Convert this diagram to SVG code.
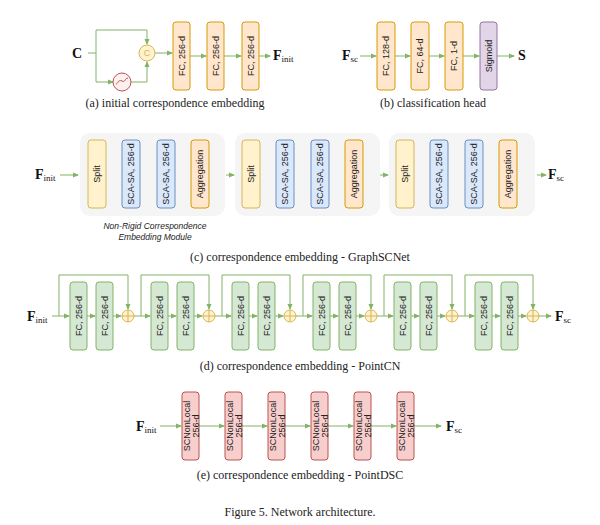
<svg xmlns="http://www.w3.org/2000/svg" width="600" height="525" viewBox="0 0 600 525">
<style>
.o{fill:#ffe6cc;stroke:#d79b00}.g{fill:#d5e8d4;stroke:#82b366}.bl{fill:#dae8fc;stroke:#6c8ebf}.p{fill:#e1d5e7;stroke:#9673a6}.r{fill:#f8cecc;stroke:#b85450}.sp{fill:#fff2cc;stroke:#d6b656}
.t{font-family:"Liberation Sans",Arial,sans-serif;font-size:9px;fill:#222;text-anchor:middle;dominant-baseline:central}
.t2{font-family:"Liberation Sans",Arial,sans-serif;font-size:8.5px;fill:#222;text-anchor:middle}
.cap{font-family:"Liberation Serif",serif;font-size:12px;fill:#222;text-anchor:middle}
.m{font-family:"Liberation Serif",serif;font-size:14px;font-weight:bold;fill:#111}
.sub{font-size:9px;font-weight:normal}
.c{fill:none;stroke:#82b366;stroke-width:1;marker-end:url(#ag)}
.cb{fill:none;stroke:#6c8ebf;stroke-width:1;marker-end:url(#ab)}
.ln{fill:none;stroke:#82b366;stroke-width:1}
.y{fill:#fff2cc;stroke:#d6b656}
</style>
<defs>
<marker id="ag" markerWidth="6" markerHeight="6" refX="5" refY="3" orient="auto" markerUnits="userSpaceOnUse"><path d="M0,0.5L6,3L0,5.5z" fill="#82b366"/></marker>
<marker id="ab" markerWidth="6" markerHeight="6" refX="5" refY="3" orient="auto" markerUnits="userSpaceOnUse"><path d="M0,0.5L6,3L0,5.5z" fill="#6c8ebf"/></marker>
</defs>
<g id="connectors">
<path class="ln" d="M88,53H96V30H147"/><path class="c" d="M147,30V44"/>
<path class="c" d="M96,53V82H113"/><path class="ln" d="M131,82H147"/><path class="c" d="M147,82V62"/>
<path class="c" d="M155,53H172"/><path class="c" d="M190,56H206"/><path class="c" d="M224,56H241"/><path class="c" d="M259,56H270"/>
<path class="c" d="M360,56H376"/><path class="c" d="M395,56H410"/><path class="c" d="M429,56H444"/><path class="c" d="M463,56H479"/><path class="c" d="M497,56H514"/>
<path class="c" d="M60,175H78"/><path class="c" d="M226,175H234"/><path class="c" d="M380,175H388"/><path class="c" d="M537,175H546"/>
<path class="cb" d="M106,175H121"/><path class="cb" d="M140,175H156"/><path class="cb" d="M175,175H190"/>
<path class="cb" d="M260,175H275"/><path class="cb" d="M294,175H310"/><path class="cb" d="M329,175H344"/>
<path class="cb" d="M414,175H429"/><path class="cb" d="M448,175H464"/><path class="cb" d="M483,175H498"/>
<path class="c" d="M52,316H69"/>
<path class="c" d="M87,316H95"/><path class="c" d="M113,316H121"/><path class="ln" d="M59,316V275H128"/><path class="c" d="M128,275V309"/>
<path class="c" d="M134,316H150"/><path class="c" d="M168,316H176"/><path class="c" d="M194,316H202"/><path class="ln" d="M141,316V275H209"/><path class="c" d="M209,275V309"/>
<path class="c" d="M215,316H231"/><path class="c" d="M249,316H257"/><path class="c" d="M275,316H283"/><path class="ln" d="M222,316V275H290"/><path class="c" d="M290,275V309"/>
<path class="c" d="M296,316H312"/><path class="c" d="M330,316H338"/><path class="c" d="M356,316H364"/><path class="ln" d="M303,316V275H371"/><path class="c" d="M371,275V309"/>
<path class="c" d="M377,316H393"/><path class="c" d="M411,316H419"/><path class="c" d="M437,316H445"/><path class="ln" d="M384,316V275H452"/><path class="c" d="M452,275V309"/>
<path class="c" d="M458,316H474"/><path class="c" d="M492,316H500"/><path class="c" d="M518,316H526"/><path class="ln" d="M465,316V275H533"/><path class="c" d="M533,275V309"/>
<path class="c" d="M539,316H551"/>
<path class="c" d="M160,426H181"/><path class="c" d="M199,426H224"/><path class="c" d="M242,426H267"/><path class="c" d="M285,426H310"/><path class="c" d="M328,426H353"/><path class="c" d="M371,426H396"/><path class="c" d="M414,426H441"/>
</g>
<g id="a">
<text class="m" x="72" y="58">C</text>
<g id="concat"><circle class="y" cx="147" cy="53" r="8"/><text class="t" x="147" y="53" style="fill:#d6b656">C</text></g>
<g id="sine"><circle cx="122" cy="82" r="9" fill="#fdf0f0" stroke="#b85450"/><path d="M116,84c2,0 2,-5 6,-3c3,2 3,-3 6,-3" fill="none" stroke="#b85450"/></g>
<g id="a1"><rect class="o" x="173" y="22" width="17" height="68" rx="3"/><text class="t" transform="translate(182,56) rotate(-90)">FC, 256-d</text></g>
<g id="a2"><rect class="o" x="207" y="22" width="17" height="68" rx="3"/><text class="t" transform="translate(216,56) rotate(-90)">FC, 256-d</text></g>
<g id="a3"><rect class="o" x="242" y="22" width="17" height="68" rx="3"/><text class="t" transform="translate(251,56) rotate(-90)">FC, 256-d</text></g>
<text class="m" x="273" y="60">F<tspan class="sub" dy="2">init</tspan></text>
<text class="cap" x="175" y="107">(a) initial correspondence embedding</text>
</g>
<g id="b">
<text class="m" x="342" y="60">F<tspan class="sub" dy="2">sc</tspan></text>
<g id="b1"><rect class="o" x="377" y="22" width="18" height="68" rx="3"/><text class="t" transform="translate(386,56) rotate(-90)">FC, 128-d</text></g>
<g id="b2"><rect class="o" x="411" y="22" width="18" height="68" rx="3"/><text class="t" transform="translate(420,56) rotate(-90)">FC, 64-d</text></g>
<g id="b3"><rect class="o" x="445" y="22" width="18" height="68" rx="3"/><text class="t" transform="translate(454,56) rotate(-90)">FC, 1-d</text></g>
<g id="b4"><rect class="p" x="480" y="22" width="17" height="68" rx="3"/><text class="t" transform="translate(488.5,56) rotate(-90)">Sigmoid</text></g>
<text class="m" x="518" y="60">S</text>
<text class="cap" x="433" y="107">(b) classification head</text>
</g>
<g id="c">
<text class="m" x="35" y="179">F<tspan class="sub" dy="2">init</tspan></text>
<rect x="80" y="133" width="145" height="83" rx="10" fill="#f5f5f5"/>
<rect x="235" y="133" width="145" height="83" rx="10" fill="#f5f5f5"/>
<rect x="389" y="133" width="146" height="83" rx="10" fill="#f5f5f5"/>
<g id="c1"><rect class="sp" x="88" y="140" width="18" height="68" rx="3"/><text class="t" transform="translate(97,174) rotate(-90)">Split</text></g>
<g id="c2"><rect class="bl" x="122" y="140" width="18" height="68" rx="3"/><text class="t" transform="translate(131,174) rotate(-90)">SCA-SA, 256-d</text></g>
<g id="c3"><rect class="bl" x="157" y="140" width="18" height="68" rx="3"/><text class="t" transform="translate(166,174) rotate(-90)">SCA-SA, 256-d</text></g>
<g id="c4"><rect class="o" x="191" y="140" width="18" height="68" rx="3"/><text class="t" transform="translate(200,174) rotate(-90)">Aggregation</text></g>
<g id="c5"><rect class="sp" x="242" y="140" width="18" height="68" rx="3"/><text class="t" transform="translate(251,174) rotate(-90)">Split</text></g>
<g id="c6"><rect class="bl" x="276" y="140" width="18" height="68" rx="3"/><text class="t" transform="translate(285,174) rotate(-90)">SCA-SA, 256-d</text></g>
<g id="c7"><rect class="bl" x="311" y="140" width="18" height="68" rx="3"/><text class="t" transform="translate(320,174) rotate(-90)">SCA-SA, 256-d</text></g>
<g id="c8"><rect class="o" x="345" y="140" width="18" height="68" rx="3"/><text class="t" transform="translate(354,174) rotate(-90)">Aggregation</text></g>
<g id="c9"><rect class="sp" x="396" y="140" width="18" height="68" rx="3"/><text class="t" transform="translate(405,174) rotate(-90)">Split</text></g>
<g id="c10"><rect class="bl" x="430" y="140" width="18" height="68" rx="3"/><text class="t" transform="translate(439,174) rotate(-90)">SCA-SA, 256-d</text></g>
<g id="c11"><rect class="bl" x="465" y="140" width="18" height="68" rx="3"/><text class="t" transform="translate(474,174) rotate(-90)">SCA-SA, 256-d</text></g>
<g id="c12"><rect class="o" x="499" y="140" width="18" height="68" rx="3"/><text class="t" transform="translate(508,174) rotate(-90)">Aggregation</text></g>
<text class="m" x="548" y="179">F<tspan class="sub" dy="2">sc</tspan></text>
<text class="t2" x="155" y="229" style="font-style:italic">Non-Rigid Correspondence</text>
<text class="t2" x="155" y="240" style="font-style:italic">Embedding Module</text>
<text class="cap" x="300" y="261">(c) correspondence embedding - GraphSCNet</text>
</g>
<g id="d">
<text class="m" x="27" y="321">F<tspan class="sub" dy="2">init</tspan></text>
<g id="d1"><rect class="g" x="70" y="282" width="17" height="68" rx="3"/><text class="t" transform="translate(78.5,316) rotate(-90)">FC, 256-d</text></g>
<g id="d2"><rect class="g" x="96" y="282" width="17" height="68" rx="3"/><text class="t" transform="translate(104.5,316) rotate(-90)">FC, 256-d</text></g>
<g id="d3"><rect class="g" x="151" y="282" width="17" height="68" rx="3"/><text class="t" transform="translate(159.5,316) rotate(-90)">FC, 256-d</text></g>
<g id="d4"><rect class="g" x="177" y="282" width="17" height="68" rx="3"/><text class="t" transform="translate(185.5,316) rotate(-90)">FC, 256-d</text></g>
<g id="d5"><rect class="g" x="232" y="282" width="17" height="68" rx="3"/><text class="t" transform="translate(240.5,316) rotate(-90)">FC, 256-d</text></g>
<g id="d6"><rect class="g" x="258" y="282" width="17" height="68" rx="3"/><text class="t" transform="translate(266.5,316) rotate(-90)">FC, 256-d</text></g>
<g id="d7"><rect class="g" x="313" y="282" width="17" height="68" rx="3"/><text class="t" transform="translate(321.5,316) rotate(-90)">FC, 256-d</text></g>
<g id="d8"><rect class="g" x="339" y="282" width="17" height="68" rx="3"/><text class="t" transform="translate(347.5,316) rotate(-90)">FC, 256-d</text></g>
<g id="d9"><rect class="g" x="394" y="282" width="17" height="68" rx="3"/><text class="t" transform="translate(402.5,316) rotate(-90)">FC, 256-d</text></g>
<g id="d10"><rect class="g" x="420" y="282" width="17" height="68" rx="3"/><text class="t" transform="translate(428.5,316) rotate(-90)">FC, 256-d</text></g>
<g id="d11"><rect class="g" x="475" y="282" width="17" height="68" rx="3"/><text class="t" transform="translate(483.5,316) rotate(-90)">FC, 256-d</text></g>
<g id="d12"><rect class="g" x="501" y="282" width="17" height="68" rx="3"/><text class="t" transform="translate(509.5,316) rotate(-90)">FC, 256-d</text></g>
<g id="plus" stroke="#d6b656" fill="#fff2cc">
<circle cx="128" cy="316" r="6"/><path d="M122,316h12M128,310v12"/>
<circle cx="209" cy="316" r="6"/><path d="M203,316h12M209,310v12"/>
<circle cx="290" cy="316" r="6"/><path d="M284,316h12M290,310v12"/>
<circle cx="371" cy="316" r="6"/><path d="M365,316h12M371,310v12"/>
<circle cx="452" cy="316" r="6"/><path d="M446,316h12M452,310v12"/>
<circle cx="533" cy="316" r="6"/><path d="M527,316h12M533,310v12"/>
</g>
<text class="m" x="555" y="321">F<tspan class="sub" dy="2">sc</tspan></text>
<text class="cap" x="300" y="370">(d) correspondence embedding - PointCN</text>
</g>
<g id="e">
<text class="m" x="136" y="431">F<tspan class="sub" dy="2">init</tspan></text>
<g id="e1"><rect class="r" x="182" y="392" width="17" height="68" rx="3"/><text class="t" transform="translate(190.5,426) rotate(-90)"><tspan x="0" dy="-4">SCNonLocal</tspan><tspan x="0" dy="9">256-d</tspan></text></g>
<g id="e2"><rect class="r" x="225" y="392" width="17" height="68" rx="3"/><text class="t" transform="translate(233.5,426) rotate(-90)"><tspan x="0" dy="-4">SCNonLocal</tspan><tspan x="0" dy="9">256-d</tspan></text></g>
<g id="e3"><rect class="r" x="268" y="392" width="17" height="68" rx="3"/><text class="t" transform="translate(276.5,426) rotate(-90)"><tspan x="0" dy="-4">SCNonLocal</tspan><tspan x="0" dy="9">256-d</tspan></text></g>
<g id="e4"><rect class="r" x="311" y="392" width="17" height="68" rx="3"/><text class="t" transform="translate(319.5,426) rotate(-90)"><tspan x="0" dy="-4">SCNonLocal</tspan><tspan x="0" dy="9">256-d</tspan></text></g>
<g id="e5"><rect class="r" x="354" y="392" width="17" height="68" rx="3"/><text class="t" transform="translate(362.5,426) rotate(-90)"><tspan x="0" dy="-4">SCNonLocal</tspan><tspan x="0" dy="9">256-d</tspan></text></g>
<g id="e6"><rect class="r" x="397" y="392" width="17" height="68" rx="3"/><text class="t" transform="translate(405.5,426) rotate(-90)"><tspan x="0" dy="-4">SCNonLocal</tspan><tspan x="0" dy="9">256-d</tspan></text></g>
<text class="m" x="446" y="431">F<tspan class="sub" dy="2">sc</tspan></text>
<text class="cap" x="300" y="479">(e) correspondence embedding - PointDSC</text>
</g>
<text class="cap" x="300" y="516">Figure 5. Network architecture.</text>
</svg>
